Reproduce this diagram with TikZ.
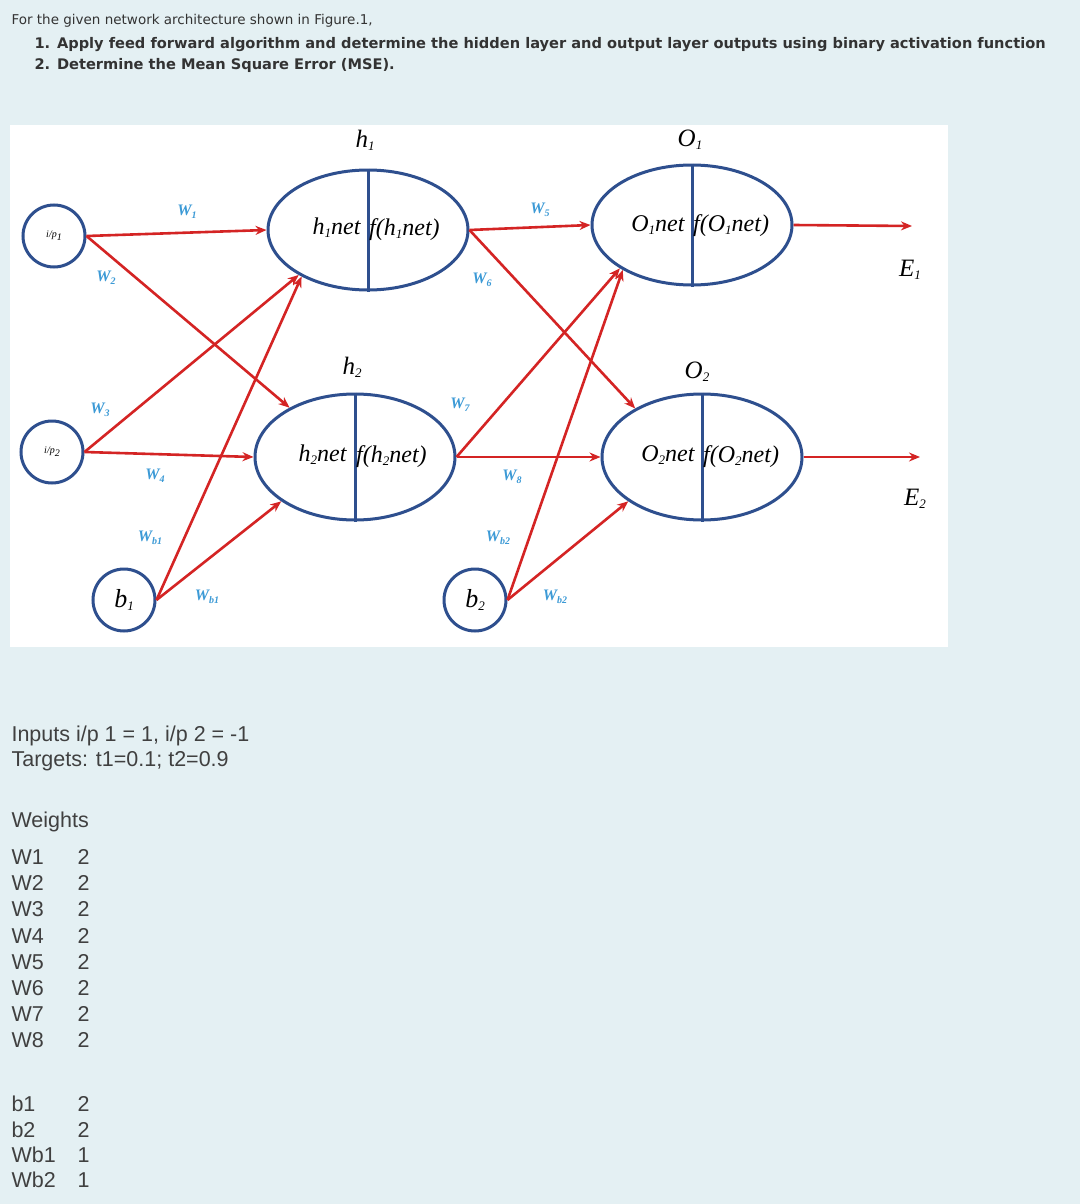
\documentclass[tikz,border=0pt]{standalone}
\usepackage{fontspec}
\setmainfont{Liberation Serif}
\newfontfamily\dv{DejaVu Sans}
\newfontfamily\ar{Liberation Sans}
\usetikzlibrary{shapes.geometric,arrows.meta}
\definecolor{bgc}{HTML}{E4F0F3}
\definecolor{edgec}{HTML}{D42424}
\definecolor{nodec}{HTML}{2E4F8E}
\definecolor{wc}{HTML}{3C9AD6}
\tikzset{
  neuron/.style={ellipse,draw=nodec,line width=3pt,minimum width=200pt,minimum height=120pt,inner sep=0pt},
  inp/.style={circle,draw=nodec,line width=3pt,minimum size=62pt,inner sep=0pt},
  conn/.style={draw=edgec,line width=2.6pt,-{Stealth[length=11pt,width=9pt]}},
  wl/.style={text=wc,font=\bfseries\itshape\fontsize{16}{16}\selectfont},
  nt/.style={font=\itshape\fontsize{24}{24}\selectfont},
  ttl/.style={font=\itshape\fontsize{25}{25}\selectfont},
  div/.style={draw=nodec,line width=3pt},
  bt/.style={anchor=west,font=\ar\fontsize{21.5}{21.5}\selectfont,text=black!75},
  tt/.style={anchor=west,font=\dv\fontsize{13.5}{13.5}\selectfont,text=black!80},
  tb/.style={anchor=west,font=\dv\bfseries\fontsize{14.6}{14.6}\selectfont,text=black!80}
}
\newcommand{\sbs}[1]{\raisebox{-3pt}{\fontsize{13}{13}\selectfont #1}}
\newcommand{\wsb}[1]{\raisebox{-3pt}{\fontsize{10}{10}\selectfont #1}}
\begin{document}
\begin{tikzpicture}[x=1pt,y=-1pt]
\fill[bgc] (0,0) rectangle (1080,1204);
\useasboundingbox (0,0) rectangle (1080,1204);
\fill[white] (10,125) rectangle (948,647);
% header
\node[tt] (t0) at (8,21) {For the given network architecture shown in Figure.1,};
\node[tb] (t1) at (31,45) {1. Apply feed forward algorithm and determine the hidden layer and output layer outputs using binary activation function};
\node[tb] (t2) at (31,65) {2. Determine the Mean Square Error (MSE).};
% nodes
\node[inp] (ip1) at (54,236) {\fontsize{10}{10}\selectfont\itshape i/p\wsb{1}};
\node[inp] (ip2) at (52,452) {\fontsize{10}{10}\selectfont\itshape i/p\wsb{2}};
\node[inp] (b1) at (124,600) {\fontsize{26}{26}\selectfont\itshape b\sbs{1}};
\node[inp] (b2) at (475,600) {\fontsize{26}{26}\selectfont\itshape b\sbs{2}};
\node[neuron] (h1) at (368,230) {};
\node[neuron,minimum height=126pt] (h2) at (355,457) {};
\node[neuron] (o1) at (692,225) {};
\node[neuron,minimum height=126pt] (o2) at (702,457) {};
\draw[div] (h1.north) -- (h1.south);
\draw[div] (h2.north) -- (h2.south);
\draw[div] (o1.north) -- (o1.south);
\draw[div] (o2.north) -- (o2.south);
\node[nt,anchor=east] (h1a) at (364,228) {h\sbs{1}net};
\node[nt,anchor=west,inner sep=1pt] (h1b) at (368,230) {f(h\sbs{1}net)};
\node[nt,anchor=east] (h2a) at (350,455) {h\sbs{2}net};
\node[nt,anchor=west,inner sep=1pt] (h2b) at (355,457) {f(h\sbs{2}net)};
\node[nt,anchor=east] (o1a) at (688,225) {O\sbs{1}net};
\node[nt,anchor=west,inner sep=1pt] (o1b) at (692,226) {f(O\sbs{1}net)};
\node[nt,anchor=east] (o2a) at (698,455) {O\sbs{2}net};
\node[nt,anchor=west,inner sep=1pt] (o2b) at (702,457) {f(O\sbs{2}net)};
\node[ttl] (lh1) at (365,140) {h\sbs{1}};
\node[ttl] (lh2) at (352,367) {h\sbs{2}};
\node[ttl] (lo1) at (690,140) {O\sbs{1}};
\node[ttl] (lo2) at (697,372) {O\sbs{2}};
\node[ttl] (le1) at (910,270) {E\sbs{1}};
\node[ttl] (le2) at (915,499) {E\sbs{2}};
\coordinate (e1) at (912,226);
\coordinate (e2) at (920,457);
% connectors
\draw[conn] (ip1.east) -- (h1.west);
\draw[conn] (ip1.east) -- (h2.143);
\draw[conn] (ip2.east) -- (h1.213);
\draw[conn] (ip2.east) -- (h2.west);
\draw[conn] (b1.east) -- (h1.215);
\draw[conn] (b1.east) -- (h2.211);
\draw[conn] (h1.east) -- (o1.west);
\draw[conn] (h1.east) -- (o2.144);
\draw[conn] (h2.east) -- (o1.211);
\draw[conn] (h2.east) -- (o2.west);
\draw[conn] (b2.east) -- (o1.213);
\draw[conn] (b2.east) -- (o2.211);
\draw[conn] (o1.east) -- (e1);
\draw[conn] (o2.east) -- (e2);
% weight labels
\node[wl] (w1) at (187,212) {W\wsb{1}};
\node[wl] (w2) at (106,278) {W\wsb{2}};
\node[wl] (w3) at (100,410) {W\wsb{3}};
\node[wl] (w4) at (155,476) {W\wsb{4}};
\node[wl] (wb1a) at (150,538) {W\wsb{b1}};
\node[wl] (wb1b) at (207,597) {W\wsb{b1}};
\node[wl] (w5) at (540,210) {W\wsb{5}};
\node[wl] (w6) at (482,280) {W\wsb{6}};
\node[wl] (w7) at (460,405) {W\wsb{7}};
\node[wl] (w8) at (512,477) {W\wsb{8}};
\node[wl] (wb2a) at (498,538) {W\wsb{b2}};
\node[wl] (wb2b) at (555,597) {W\wsb{b2}};
% bottom text
\node[bt] (in1) at (8,736) {Inputs i/p 1 = 1, i/p 2 = -1};
\node[bt] (in2) at (8,761) {Targets: t1=0.1; t2=0.9};
\node[bt] (wt) at (8,822) {Weights};
\foreach \i/\y in {1/857,2/883,3/909,4/936,5/962,6/988,7/1014,8/1040}{
  \node[bt] (wn\i) at (8,\y) {W\i};
  \node[bt] (wv\i) at (74,\y) {2};
}
\node[bt] (bn1) at (8,1104) {b1}; \node[bt] (bv1) at (74,1104) {2};
\node[bt] (bn2) at (8,1130) {b2}; \node[bt] (bv2) at (74,1130) {2};
\node[bt] (bn3) at (8,1155) {Wb1}; \node[bt] (bv3) at (74,1155) {1};
\node[bt] (bn4) at (8,1180) {Wb2}; \node[bt] (bv4) at (74,1180) {1};
\end{tikzpicture}
\end{document}
